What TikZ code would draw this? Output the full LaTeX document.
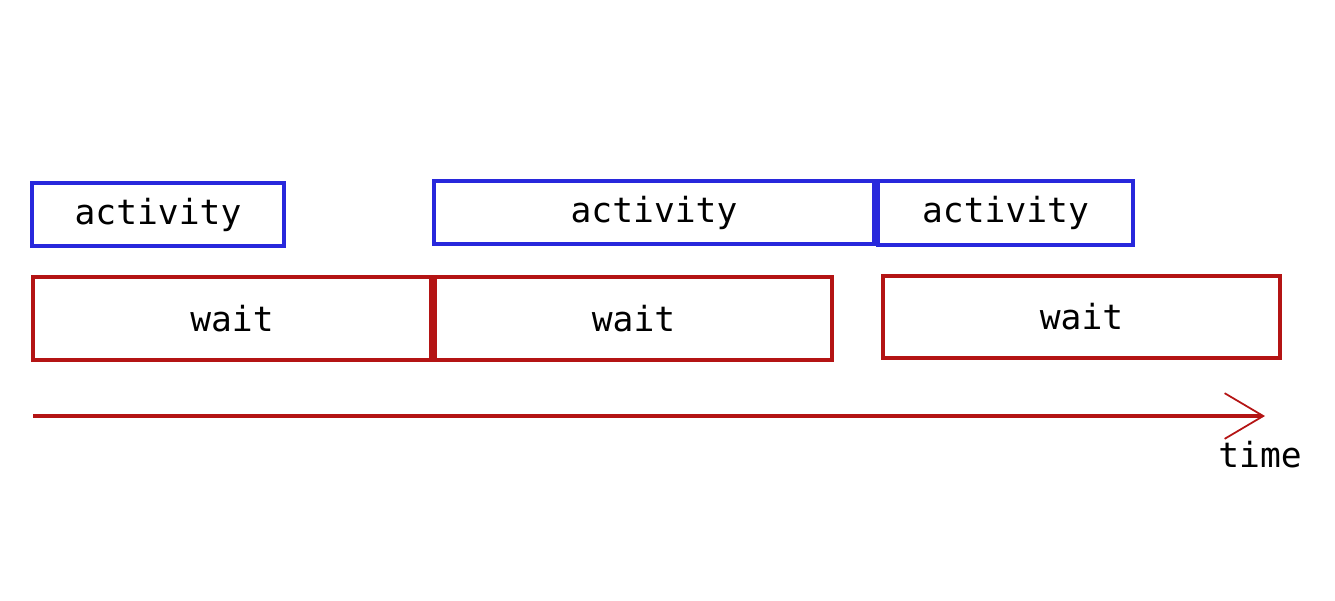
\documentclass[tikz,border=0pt]{standalone}
\usepackage{fontspec}
\setmonofont{DejaVu Sans Mono}
\usetikzlibrary{arrows.meta}
\definecolor{actblue}{RGB}{40,40,220}
\definecolor{waitred}{RGB}{180,20,20}
\begin{document}
\begin{tikzpicture}[x=0.02cm,y=-0.02cm,font=\ttfamily\fontsize{19.7}{22}\selectfont,
	actbox/.style={draw=actblue,line width=2.3pt,inner sep=0pt},
	waitbox/.style={draw=waitred,line width=2.3pt,inner sep=0pt}]
	\useasboundingbox (0,0) rectangle (1335,600);
	%activities
	\draw[actbox] (32,183) rectangle (284,246) node[midway] (a1) {activity};
	\draw[actbox] (434,181) rectangle (874,244) node[midway] (a2) {activity};
	\draw[actbox] (878,181) rectangle (1133,245) node[midway] (a3) {activity};

	%waits
	\draw[waitbox] (33,277) rectangle (431,360) node[midway] (w1) {wait};
	\draw[waitbox] (435,277) rectangle (832,360) node[midway] (w2) {wait};
	\draw[waitbox] (883,276) rectangle (1280,358) node[midway] (w3) {wait};

	%time axis
	\coordinate (t0) at (33,416);
	\coordinate (t1) at (1265,416);
	\draw[waitred,line width=2pt,-{Straight Barb[length=22pt,width=26pt,line width=1pt]}] (t0) -- (t1);
	\node (time) at (1260,455) {time};
\end{tikzpicture}
\end{document}
